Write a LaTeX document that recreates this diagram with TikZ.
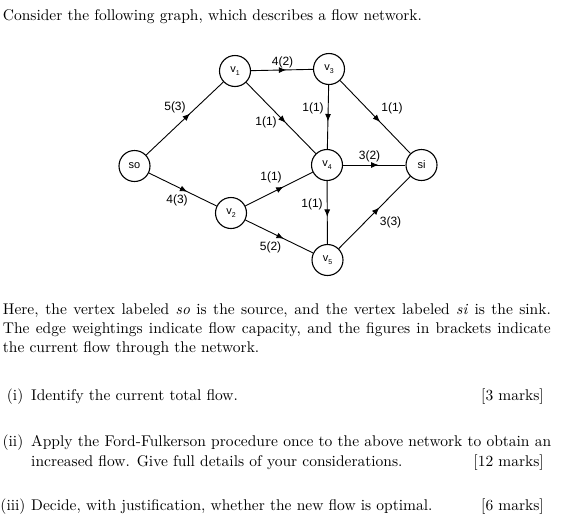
\documentclass[tikz,border=0pt]{standalone}
\usepackage{fontspec}
\newfontfamily\lsans{Liberation Sans}
\usepackage{graphicx}
\usetikzlibrary{arrows.meta,decorations.markings}
\newcommand{\tx}[1]{\scalebox{1.55}{\fontsize{10}{12}\selectfont #1}}
\newcommand{\jline}[2]{\tx{\makebox[#1][s]{#2}}}
\newcommand{\vlab}[1]{v\raisebox{-2.6pt}{\fontsize{7}{8}\selectfont #1}}
\begin{document}
\begin{tikzpicture}[x=1pt,y=-1pt,
  vtx/.style={circle,draw,line width=1.1pt,minimum size=31pt,inner sep=0pt,
    font=\lsans\fontsize{11}{12}\selectfont},
  flow/.style={line width=0.9pt,postaction={decorate},
    decoration={markings,mark=at position 0.57 with {\arrow{Latex[length=7.5pt,width=6pt]}}}},
  elab/.style={font=\lsans\fontsize{12}{13}\selectfont,inner sep=0pt},
  txt/.style={inner sep=0pt,anchor=base west},
  txr/.style={inner sep=0pt,anchor=base east}]
\useasboundingbox (0,0) rectangle (581,528);

% graph
\node[vtx] (so) at (134.5,166) {so};
\node[vtx] (v1) at (235,71) {\vlab{1}};
\node[vtx] (v3) at (329,69) {\vlab{3}};
\node[vtx] (v4) at (327,165) {\vlab{4}};
\node[vtx] (si) at (421.5,165) {si};
\node[vtx] (v2) at (231,213) {\vlab{2}};
\node[vtx] (v5) at (327.5,260) {\vlab{5}};

\draw[flow] (so) -- (v1);
\draw[flow] (so) -- (v2);
\draw[flow] (v1) -- (v3);
\draw[flow] (v1) -- (v4);
\draw[flow] (v3) -- (v4);
\draw[flow] (v3) -- (si);
\draw[flow] (v4) -- (si);
\draw[flow] (v2) -- (v4);
\draw[flow] (v2) -- (v5);
\draw[flow] (v4) -- (v5);
\draw[flow] (v5) -- (si);

\node[elab] (l1) at (175,107) {5(3)};
\node[elab] (l2) at (282.5,62.5) {4(2)};
\node[elab] (l3) at (266,122) {1(1)};
\node[elab] (l4) at (313,108) {1(1)};
\node[elab] (l5) at (392,108) {1(1)};
\node[elab] (l6) at (369.5,156.5) {3(2)};
\node[elab] (l7) at (271,177.5) {1(1)};
\node[elab] (l8) at (177,200) {4(3)};
\node[elab] (l9) at (270.5,247) {5(2)};
\node[elab] (l10) at (312,204.5) {1(1)};
\node[elab] (l11) at (390.5,222) {3(3)};

% text
\node[txt] (t0) at (2.7,20.7) {\tx{Consider the following graph, which describes a flow network.}};
\node[txt] (p1) at (2.7,314.3) {\jline{353.5pt}{Here, the vertex labeled \textit{so} is the source, and the vertex labeled \textit{si} is the sink.}};
\node[txt] (p2) at (2.7,333.3) {\jline{353.5pt}{The edge weightings indicate flow capacity, and the figures in brackets indicate}};
\node[txt] (p3) at (2.7,352.3) {\tx{the current flow through the network.}};

\node[txr] (i1) at (23.5,400.7) {\tx{(i)}};
\node[txt] (b1) at (31,400.7) {\tx{Identify the current total flow.}};
\node[txr] (m1) at (544,400.7) {\tx{[3 marks]}};

\node[txr] (i2) at (23.5,446.7) {\tx{(ii)}};
\node[txt] (b2) at (31,446.7) {\jline{335.5pt}{Apply the Ford-Fulkerson procedure once to the above network to obtain an}};
\node[txt] (b2b) at (31,466) {\tx{increased flow. Give full details of your considerations.}};
\node[txr] (m2) at (544,466) {\tx{[12 marks]}};

\node[txt] (i3) at (0.3,510.7) {\tx{(iii)}};
\node[txt] (b3) at (31,510.7) {\tx{Decide, with justification, whether the new flow is optimal.}};
\node[txr] (m3) at (544,510.7) {\tx{[6 marks]}};
\end{tikzpicture}
\end{document}
